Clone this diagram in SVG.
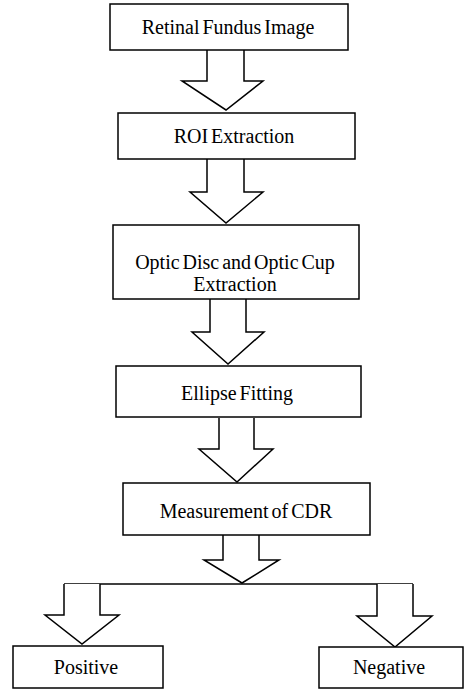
<svg xmlns="http://www.w3.org/2000/svg" width="474" height="695" viewBox="0 0 474 695">
<style>
.box{fill:#fff;stroke:#000;stroke-width:1.5}
.arr{fill:#fff;stroke:#000;stroke-width:1.5;stroke-linejoin:miter}
.lbl{font-family:'Liberation Serif','Times New Roman',serif;font-size:20px;fill:#000;text-anchor:middle;word-spacing:-2px}
</style>
<rect width="474" height="695" fill="#fff"/>
<g id="connectors">
<polyline class="arr" points="207,50 207,81 182,81 226,110 263,81 244,81 244,50"/>
<polyline class="arr" points="207,159 207,192 190,192 226,223 263,192 244,192 244,159"/>
<polyline class="arr" points="210,299 210,332 192,332 228,364 264,332 246,332 246,299"/>
<polyline class="arr" points="219,418 219,449 199,449 237,482 273,449 254,449 254,418"/>
<polyline class="arr" points="223,535 223,560 204,560 242,583 279,560 259,560 259,535"/>
<line x1="64" y1="584" x2="413" y2="584" stroke="#000" stroke-width="1.5"/>
<polyline class="arr" points="64,584 64,615 45,615 82,644 119,615 100,615 100,584"/>
<polyline class="arr" points="377,584 377,616 357,616 395,647 432,616 413,616 413,584"/>
</g>
<g id="n1"><rect class="box" x="110" y="4" width="238" height="46"/><text class="lbl" x="228" y="34">Retinal Fundus Image</text></g>
<g id="n2"><rect class="box" x="118" y="113" width="237" height="46"/><text class="lbl" x="234" y="143">ROI Extraction</text></g>
<g id="n3"><rect class="box" x="113" y="225" width="246" height="74"/><text class="lbl" x="235" y="269">Optic Disc and Optic Cup</text><text class="lbl" x="235" y="291">Extraction</text></g>
<g id="n4"><rect class="box" x="116" y="366" width="245" height="51"/><text class="lbl" x="237" y="400">Ellipse Fitting</text></g>
<g id="n5"><rect class="box" x="123" y="483" width="247" height="52"/><text class="lbl" x="246" y="518">Measurement of CDR</text></g>
<g id="n6"><rect class="box" x="13" y="646" width="150" height="42"/><text class="lbl" x="86" y="674">Positive</text></g>
<g id="n7"><rect class="box" x="319" y="647" width="144" height="41"/><text class="lbl" x="389" y="674">Negative</text></g>
</svg>
